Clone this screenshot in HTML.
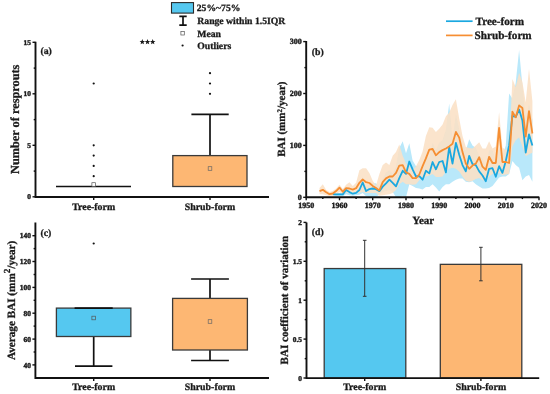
<!DOCTYPE html>
<html><head><meta charset="utf-8"><style>
html,body{margin:0;padding:0;background:#fff;width:550px;height:394px;overflow:hidden}
svg{display:block;will-change:transform}
text{font-family:"Liberation Serif", serif;font-weight:bold;fill:#1a1a1a;stroke:#1a1a1a;stroke-width:0.3px;text-rendering:geometricPrecision}
text.t{stroke-width:0.4px}
</style></head><body>
<svg width="550" height="394" viewBox="0 0 550 394">

<path d="M35.5,41.7 V197.0 H269" stroke="#111" stroke-width="1.9" fill="none"/>
<line x1="32.5" y1="196.8" x2="35.5" y2="196.8" stroke="#111" stroke-width="1.4"/>
<text x="31.0" y="199.4" class="t" font-size="7.4" text-anchor="end">0</text>
<line x1="32.5" y1="145.3" x2="35.5" y2="145.3" stroke="#111" stroke-width="1.4"/>
<text x="31.0" y="147.9" class="t" font-size="7.4" text-anchor="end">5</text>
<line x1="32.5" y1="93.8" x2="35.5" y2="93.8" stroke="#111" stroke-width="1.4"/>
<text x="31.0" y="96.4" class="t" font-size="7.4" text-anchor="end">10</text>
<line x1="32.5" y1="42.3" x2="35.5" y2="42.3" stroke="#111" stroke-width="1.4"/>
<text x="31.0" y="44.9" class="t" font-size="7.4" text-anchor="end">15</text>
<line x1="33.7" y1="171.1" x2="35.5" y2="171.1" stroke="#111" stroke-width="1.4"/>
<line x1="33.7" y1="119.6" x2="35.5" y2="119.6" stroke="#111" stroke-width="1.4"/>
<line x1="33.7" y1="68.1" x2="35.5" y2="68.1" stroke="#111" stroke-width="1.4"/>
<line x1="93.7" y1="197.0" x2="93.7" y2="200.0" stroke="#111" stroke-width="1.4"/>
<line x1="210" y1="197.0" x2="210" y2="200.0" stroke="#111" stroke-width="1.4"/>
<text x="93.7" y="209.8" font-size="9.9" text-anchor="middle">Tree-form</text>
<text x="210" y="209.8" font-size="9.9" text-anchor="middle">Shrub-form</text>
<text x="40.4" y="54.4" font-size="9.8">(a)</text>
<text x="18.7" y="119.3" font-size="12.3" text-anchor="middle" transform="rotate(-90 18.7 119.3)">Number of resprouts</text>
<polygon points="142.30,39.00 143.03,40.89 145.06,41.00 143.49,42.29 144.00,44.25 142.30,43.15 140.60,44.25 141.11,42.29 139.54,41.00 141.57,40.89" fill="#1a1a1a"/>
<polygon points="147.50,39.00 148.23,40.89 150.26,41.00 148.69,42.29 149.20,44.25 147.50,43.15 145.80,44.25 146.31,42.29 144.74,41.00 146.77,40.89" fill="#1a1a1a"/>
<polygon points="152.70,39.00 153.43,40.89 155.46,41.00 153.89,42.29 154.40,44.25 152.70,43.15 151.00,44.25 151.51,42.29 149.94,41.00 151.97,40.89" fill="#1a1a1a"/>
<line x1="56" y1="186.5" x2="131" y2="186.5" stroke="#111" stroke-width="1.7"/>
<rect x="91.9" y="182.7" width="3.6" height="3.6" fill="#fff" stroke="#555" stroke-width="0.7"/>
<circle cx="93.7" cy="176.2" r="1.1" fill="#111"/>
<circle cx="93.7" cy="165.9" r="1.1" fill="#111"/>
<circle cx="93.7" cy="155.6" r="1.1" fill="#111"/>
<circle cx="93.7" cy="145.3" r="1.1" fill="#111"/>
<circle cx="93.7" cy="83.5" r="1.1" fill="#111"/>
<line x1="210" y1="114.4" x2="210" y2="155.6" stroke="#111" stroke-width="1.7"/>
<line x1="191.4" y1="114.4" x2="228.7" y2="114.4" stroke="#111" stroke-width="1.7"/>
<rect x="172.8" y="155.6" width="74.2" height="30.9" fill="#fdb773" stroke="#3a3a3a" stroke-width="1.3"/>
<rect x="208.2" y="166.7" width="3.6" height="3.6" fill="none" stroke="#666" stroke-width="0.7"/>
<circle cx="210" cy="93.8" r="1.1" fill="#111"/>
<circle cx="210" cy="83.5" r="1.1" fill="#111"/>
<circle cx="210" cy="73.2" r="1.1" fill="#111"/>
<rect x="171.5" y="2.6" width="22" height="10.5" fill="#55c8f0" stroke="#2a2a2a" stroke-width="1.1"/>
<text x="196.7" y="11.4" font-size="9.7">25%~75%</text>
<path d="M179.3,16.4 H186.7 M183,16.4 V25.1 M179.3,25.1 H186.7" stroke="#111" stroke-width="1.7" fill="none"/>
<text x="197.3" y="24.2" font-size="9.7">Range within 1.5IQR</text>
<rect x="180.9" y="31.6" width="3.4" height="3.4" fill="#fff" stroke="#555" stroke-width="0.7"/>
<text x="197.3" y="36.8" font-size="9.7">Mean</text>
<circle cx="182.6" cy="45.5" r="1.1" fill="#111"/>
<text x="197.3" y="49.3" font-size="9.7">Outliers</text>
<polygon points="332.8,192.6 336.1,193.1 339.5,193.1 342.8,193.1 346.1,188.0 349.4,190.0 352.8,192.1 356.1,191.1 359.4,186.9 362.7,176.5 366.1,186.9 369.4,184.3 372.7,183.3 376.0,183.3 379.4,186.9 382.7,179.1 386.0,172.4 389.4,170.3 392.7,173.9 396.0,166.2 399.3,148.0 402.7,141.2 406.0,153.2 409.3,143.3 412.6,160.5 416.0,166.2 419.3,165.1 422.6,168.8 425.9,155.8 429.3,158.4 432.6,142.8 435.9,150.6 439.2,142.8 442.6,140.2 445.9,129.8 449.2,103.4 452.5,140.2 455.9,114.3 459.2,129.8 462.5,145.4 465.8,150.6 469.2,139.2 472.5,145.4 475.8,148.0 479.2,155.8 482.5,158.4 485.8,168.8 489.1,150.6 492.5,150.6 495.8,161.0 499.1,148.0 502.4,155.8 505.8,145.4 509.1,93.5 512.4,98.7 515.7,83.1 519.1,49.9 522.4,85.7 525.7,119.5 529.0,103.9 532.4,119.5 532.4,181.7 529.0,175.0 525.7,176.5 522.4,180.2 519.1,167.7 515.7,165.1 512.4,161.0 509.1,173.9 505.8,176.5 502.4,176.5 499.1,177.6 495.8,181.7 492.5,185.9 489.1,188.0 485.8,188.5 482.5,188.5 479.2,186.4 475.8,184.3 472.5,181.2 469.2,182.2 465.8,181.7 462.5,178.6 459.2,178.6 455.9,179.7 452.5,181.7 449.2,184.3 445.9,184.3 442.6,186.9 439.2,191.6 435.9,187.4 432.6,184.3 429.3,186.9 425.9,186.9 422.6,189.5 419.3,188.5 416.0,188.0 412.6,185.9 409.3,184.3 406.0,197.3 402.7,195.7 399.3,197.3 396.0,197.3 392.7,192.1 389.4,190.0 386.0,191.1 382.7,192.1 379.4,194.7 376.0,196.8 372.7,197.3 369.4,196.8 366.1,196.3 362.7,193.1 359.4,194.7 356.1,195.2 352.8,195.7 349.4,195.2 346.1,194.2 342.8,196.3 339.5,196.3 336.1,196.3 332.8,195.7" fill="#b9e8fa"/>
<polygon points="319.5,188.0 322.8,184.3 326.2,190.0 329.5,192.1 332.8,191.1 336.1,188.5 339.5,184.8 342.8,189.0 346.1,184.8 349.4,182.2 352.8,185.9 356.1,182.8 359.4,170.3 362.7,168.2 366.1,168.2 369.4,172.9 372.7,180.7 376.0,185.4 379.4,173.9 382.7,165.1 386.0,162.5 389.4,165.1 392.7,155.8 396.0,152.1 399.3,144.4 402.7,155.8 406.0,163.6 409.3,166.2 412.6,170.3 416.0,166.2 419.3,159.9 422.6,151.6 425.9,136.1 429.3,127.2 432.6,127.8 435.9,131.9 439.2,128.8 442.6,124.6 445.9,116.3 449.2,112.7 452.5,104.9 455.9,99.2 459.2,118.4 462.5,136.1 465.8,147.0 469.2,148.0 472.5,148.5 475.8,145.4 479.2,142.3 482.5,148.5 485.8,148.5 489.1,141.2 492.5,148.5 495.8,146.4 499.1,112.2 502.4,147.5 505.8,150.1 509.1,148.0 512.4,79.0 515.7,87.3 519.1,72.7 522.4,82.1 525.7,102.3 529.0,69.1 532.4,101.3 532.4,152.7 529.0,154.2 525.7,156.3 522.4,146.4 519.1,137.6 515.7,140.2 512.4,146.4 509.1,173.9 505.8,174.5 502.4,175.0 499.1,172.9 495.8,173.9 492.5,173.9 489.1,176.5 485.8,180.7 482.5,180.2 479.2,178.1 475.8,179.1 472.5,180.7 469.2,181.7 465.8,180.7 462.5,176.5 459.2,171.4 455.9,168.8 452.5,167.7 449.2,168.8 445.9,171.4 442.6,176.5 439.2,177.1 435.9,177.1 432.6,173.9 429.3,175.5 425.9,176.5 422.6,178.1 419.3,180.2 416.0,184.3 412.6,184.8 409.3,184.3 406.0,184.3 402.7,181.7 399.3,184.3 396.0,190.0 392.7,193.1 389.4,194.2 386.0,194.7 382.7,195.2 379.4,195.7 376.0,193.1 372.7,193.1 369.4,193.1 366.1,193.1 362.7,192.1 359.4,193.1 356.1,193.1 352.8,194.2 349.4,193.1 346.1,192.6 342.8,194.7 339.5,192.1 336.1,194.2 332.8,195.7 329.5,196.3 326.2,195.2 322.8,194.2 319.5,194.2" fill="#fbe0c5" fill-opacity="0.88"/>
<polyline points="332.8,194.1 336.1,194.4 339.5,194.4 342.8,194.4 346.1,190.0 349.4,192.1 352.8,193.7 356.1,192.9 359.4,190.0 362.7,182.5 366.1,191.1 369.4,189.1 372.7,188.5 376.0,189.1 379.4,191.1 382.7,186.6 386.0,183.4 389.4,179.7 392.7,182.8 396.0,186.4 399.3,178.1 402.7,170.8 406.0,173.9 409.3,161.5 412.6,169.3 416.0,176.5 419.3,176.2 422.6,179.7 425.9,170.8 429.3,173.4 432.6,162.0 435.9,169.3 439.2,162.0 442.6,161.0 445.9,172.4 449.2,147.0 452.5,163.6 455.9,142.8 459.2,154.7 462.5,165.1 465.8,171.4 469.2,155.8 472.5,164.1 475.8,165.1 479.2,171.4 482.5,175.5 485.8,181.2 489.1,168.8 492.5,168.2 495.8,176.8 499.1,166.2 502.4,172.9 505.8,161.0 509.1,145.4 512.4,115.8 515.7,116.9 519.1,109.6 522.4,120.5 525.7,152.7 529.0,134.5 532.4,145.4" fill="none" stroke="#1aa8e0" stroke-width="1.8" stroke-linejoin="round"/>
<polyline points="319.5,191.1 322.8,189.8 326.2,192.3 329.5,194.2 332.8,193.5 336.1,191.1 339.5,187.6 342.8,191.7 346.1,188.2 349.4,188.5 352.8,189.6 356.1,188.2 359.4,182.8 362.7,179.4 366.1,182.2 369.4,183.0 372.7,185.9 376.0,188.0 379.4,190.4 382.7,182.2 386.0,178.4 389.4,176.5 392.7,176.5 396.0,172.9 399.3,165.6 402.7,165.1 406.0,172.4 409.3,173.9 412.6,178.1 416.0,178.1 419.3,174.5 422.6,166.2 425.9,158.4 429.3,149.6 432.6,149.0 435.9,155.3 439.2,152.1 442.6,150.1 445.9,148.5 449.2,146.4 452.5,143.8 455.9,131.9 459.2,137.6 462.5,152.1 465.8,163.6 469.2,168.8 472.5,165.6 475.8,163.6 479.2,157.3 482.5,166.7 485.8,169.8 489.1,156.8 492.5,163.0 495.8,163.0 499.1,127.8 502.4,162.0 505.8,162.0 509.1,163.0 512.4,111.7 515.7,117.4 519.1,105.4 522.4,108.0 525.7,136.6 529.0,111.1 532.4,133.5" fill="none" stroke="#f68e32" stroke-width="1.8" stroke-linejoin="round"/>
<path d="M306.2,41.099999999999994 V197.3 H539.3" stroke="#111" stroke-width="1.9" fill="none"/>
<line x1="303.2" y1="197.3" x2="306.2" y2="197.3" stroke="#111" stroke-width="1.4"/>
<text x="301.7" y="200.1" class="t" font-size="8" text-anchor="end">0</text>
<line x1="303.2" y1="145.4" x2="306.2" y2="145.4" stroke="#111" stroke-width="1.4"/>
<text x="301.7" y="148.2" class="t" font-size="8" text-anchor="end">100</text>
<line x1="303.2" y1="93.5" x2="306.2" y2="93.5" stroke="#111" stroke-width="1.4"/>
<text x="301.7" y="96.3" class="t" font-size="8" text-anchor="end">200</text>
<line x1="303.2" y1="41.6" x2="306.2" y2="41.6" stroke="#111" stroke-width="1.4"/>
<text x="301.7" y="44.4" class="t" font-size="8" text-anchor="end">300</text>
<line x1="304.4" y1="171.4" x2="306.2" y2="171.4" stroke="#111" stroke-width="1.4"/>
<line x1="304.4" y1="119.5" x2="306.2" y2="119.5" stroke="#111" stroke-width="1.4"/>
<line x1="304.4" y1="67.6" x2="306.2" y2="67.6" stroke="#111" stroke-width="1.4"/>
<line x1="306.2" y1="197.3" x2="306.2" y2="200.3" stroke="#111" stroke-width="1.4"/>
<text x="306.2" y="208.4" class="t" font-size="8" text-anchor="middle">1950</text>
<line x1="339.5" y1="197.3" x2="339.5" y2="200.3" stroke="#111" stroke-width="1.4"/>
<text x="339.5" y="208.4" class="t" font-size="8" text-anchor="middle">1960</text>
<line x1="372.7" y1="197.3" x2="372.7" y2="200.3" stroke="#111" stroke-width="1.4"/>
<text x="372.7" y="208.4" class="t" font-size="8" text-anchor="middle">1970</text>
<line x1="406.0" y1="197.3" x2="406.0" y2="200.3" stroke="#111" stroke-width="1.4"/>
<text x="406.0" y="208.4" class="t" font-size="8" text-anchor="middle">1980</text>
<line x1="439.2" y1="197.3" x2="439.2" y2="200.3" stroke="#111" stroke-width="1.4"/>
<text x="439.2" y="208.4" class="t" font-size="8" text-anchor="middle">1990</text>
<line x1="472.5" y1="197.3" x2="472.5" y2="200.3" stroke="#111" stroke-width="1.4"/>
<text x="472.5" y="208.4" class="t" font-size="8" text-anchor="middle">2000</text>
<line x1="505.8" y1="197.3" x2="505.8" y2="200.3" stroke="#111" stroke-width="1.4"/>
<text x="505.8" y="208.4" class="t" font-size="8" text-anchor="middle">2010</text>
<line x1="539.0" y1="197.3" x2="539.0" y2="200.3" stroke="#111" stroke-width="1.4"/>
<text x="539.0" y="208.4" class="t" font-size="8" text-anchor="middle">2020</text>
<line x1="322.8" y1="197.3" x2="322.8" y2="199.10000000000002" stroke="#111" stroke-width="1.4"/>
<line x1="356.1" y1="197.3" x2="356.1" y2="199.10000000000002" stroke="#111" stroke-width="1.4"/>
<line x1="389.4" y1="197.3" x2="389.4" y2="199.10000000000002" stroke="#111" stroke-width="1.4"/>
<line x1="422.6" y1="197.3" x2="422.6" y2="199.10000000000002" stroke="#111" stroke-width="1.4"/>
<line x1="455.9" y1="197.3" x2="455.9" y2="199.10000000000002" stroke="#111" stroke-width="1.4"/>
<line x1="489.1" y1="197.3" x2="489.1" y2="199.10000000000002" stroke="#111" stroke-width="1.4"/>
<line x1="522.4" y1="197.3" x2="522.4" y2="199.10000000000002" stroke="#111" stroke-width="1.4"/>
<text x="423.2" text-anchor="middle" y="224.1" font-size="11">Year</text>
<text x="311.7" y="55" font-size="9.8">(b)</text>
<text x="285.5" y="119.2" font-size="11" text-anchor="middle" transform="rotate(-90 285.5 119.2)">BAI (mm<tspan font-size="7" dy="-3.9">2</tspan><tspan dy="3.9">/year)</tspan></text>
<line x1="446" y1="21.2" x2="472.6" y2="21.2" stroke="#1aa8e0" stroke-width="1.7"/>
<text x="475.5" y="24.6" font-size="11.2">Tree-form</text>
<line x1="446" y1="35.4" x2="472.6" y2="35.4" stroke="#f68e32" stroke-width="1.7"/>
<text x="474.5" y="39.1" font-size="11.2">Shrub-form</text>
<path d="M35.4,222.5 V378.0 H269" stroke="#111" stroke-width="1.9" fill="none"/>
<line x1="32.4" y1="364.9" x2="35.4" y2="364.9" stroke="#111" stroke-width="1.4"/>
<text x="30.9" y="367.5" class="t" font-size="7.5" text-anchor="end">40</text>
<line x1="32.4" y1="339.1" x2="35.4" y2="339.1" stroke="#111" stroke-width="1.4"/>
<text x="30.9" y="341.7" class="t" font-size="7.5" text-anchor="end">60</text>
<line x1="32.4" y1="313.2" x2="35.4" y2="313.2" stroke="#111" stroke-width="1.4"/>
<text x="30.9" y="315.8" class="t" font-size="7.5" text-anchor="end">80</text>
<line x1="32.4" y1="287.4" x2="35.4" y2="287.4" stroke="#111" stroke-width="1.4"/>
<text x="30.9" y="290.0" class="t" font-size="7.5" text-anchor="end">100</text>
<line x1="32.4" y1="261.5" x2="35.4" y2="261.5" stroke="#111" stroke-width="1.4"/>
<text x="30.9" y="264.1" class="t" font-size="7.5" text-anchor="end">120</text>
<line x1="32.4" y1="235.7" x2="35.4" y2="235.7" stroke="#111" stroke-width="1.4"/>
<text x="30.9" y="238.3" class="t" font-size="7.5" text-anchor="end">140</text>
<line x1="33.6" y1="352.0" x2="35.4" y2="352.0" stroke="#111" stroke-width="1.4"/>
<line x1="33.6" y1="326.1" x2="35.4" y2="326.1" stroke="#111" stroke-width="1.4"/>
<line x1="33.6" y1="300.3" x2="35.4" y2="300.3" stroke="#111" stroke-width="1.4"/>
<line x1="33.6" y1="274.5" x2="35.4" y2="274.5" stroke="#111" stroke-width="1.4"/>
<line x1="33.6" y1="248.6" x2="35.4" y2="248.6" stroke="#111" stroke-width="1.4"/>
<line x1="93.7" y1="378.0" x2="93.7" y2="381.0" stroke="#111" stroke-width="1.4"/>
<line x1="210" y1="378.0" x2="210" y2="381.0" stroke="#111" stroke-width="1.4"/>
<text x="93.7" y="390.2" font-size="9.9" text-anchor="middle">Tree-form</text>
<text x="210" y="390.2" font-size="9.9" text-anchor="middle">Shrub-form</text>
<text x="40.4" y="235.5" font-size="9.8">(c)</text>
<text x="15" y="300.4" font-size="11.2" text-anchor="middle" transform="rotate(-90 15 300.4)">Average BAI (mm<tspan font-size="9.2" dy="-4.6">2</tspan><tspan dy="4.6">/year)</tspan></text>
<line x1="93.7" y1="336.5" x2="93.7" y2="366.2" stroke="#111" stroke-width="1.7"/>
<line x1="75" y1="366.2" x2="112.4" y2="366.2" stroke="#111" stroke-width="1.7"/>
<rect x="56.4" y="308.1" width="74.45" height="28.4" fill="#55c8f0" stroke="#3a3a3a" stroke-width="1.3"/>
<line x1="74.6" y1="308.1" x2="112.7" y2="308.1" stroke="#111" stroke-width="1.7"/>
<rect x="91.9" y="316.2" width="3.6" height="3.6" fill="none" stroke="#555" stroke-width="0.7"/>
<circle cx="93.7" cy="243.5" r="1.1" fill="#111"/>
<line x1="210" y1="279.0" x2="210" y2="360.5" stroke="#111" stroke-width="1.7"/>
<line x1="191.1" y1="279.0" x2="228.9" y2="279.0" stroke="#111" stroke-width="1.7"/>
<line x1="191.1" y1="360.5" x2="228.9" y2="360.5" stroke="#111" stroke-width="1.7"/>
<rect x="172.6" y="298.4" width="74.8" height="51.6" fill="#fdb773" stroke="#3a3a3a" stroke-width="1.3"/>
<rect x="208.2" y="319.7" width="3.6" height="3.6" fill="none" stroke="#666" stroke-width="0.7"/>
<rect x="324.2" y="268.55" width="81.6" height="109.45" fill="#55c8f0" stroke="#3a3a3a" stroke-width="1.3"/>
<rect x="440.3" y="264.35" width="81.5" height="113.65" fill="#fdb773" stroke="#3a3a3a" stroke-width="1.3"/>
<line x1="364.7" y1="240.3" x2="364.7" y2="296.3" stroke="#333" stroke-width="1"/>
<line x1="362.9" y1="296.3" x2="366.5" y2="296.3" stroke="#333" stroke-width="1"/>
<line x1="362.9" y1="240.3" x2="366.5" y2="240.3" stroke="#333" stroke-width="1"/>
<line x1="480.9" y1="247.3" x2="480.9" y2="280.8" stroke="#333" stroke-width="1"/>
<line x1="479.09999999999997" y1="280.8" x2="482.7" y2="280.8" stroke="#333" stroke-width="1"/>
<line x1="479.09999999999997" y1="247.3" x2="482.7" y2="247.3" stroke="#333" stroke-width="1"/>
<path d="M306.5,222.4 V378.1 H539.2" stroke="#111" stroke-width="1.9" fill="none"/>
<line x1="303.5" y1="378.0" x2="306.5" y2="378.0" stroke="#111" stroke-width="1.4"/>
<text x="302.0" y="380.6" class="t" font-size="7.4" text-anchor="end">0</text>
<line x1="303.5" y1="339.1" x2="306.5" y2="339.1" stroke="#111" stroke-width="1.4"/>
<text x="302.0" y="341.7" class="t" font-size="7.4" text-anchor="end">0.5</text>
<line x1="303.5" y1="300.2" x2="306.5" y2="300.2" stroke="#111" stroke-width="1.4"/>
<text x="302.0" y="302.8" class="t" font-size="7.4" text-anchor="end">1</text>
<line x1="303.5" y1="261.3" x2="306.5" y2="261.3" stroke="#111" stroke-width="1.4"/>
<text x="302.0" y="263.9" class="t" font-size="7.4" text-anchor="end">1.5</text>
<line x1="303.5" y1="222.4" x2="306.5" y2="222.4" stroke="#111" stroke-width="1.4"/>
<text x="302.0" y="225.0" class="t" font-size="7.4" text-anchor="end">2</text>
<line x1="304.7" y1="358.6" x2="306.5" y2="358.6" stroke="#111" stroke-width="1.4"/>
<line x1="304.7" y1="319.6" x2="306.5" y2="319.6" stroke="#111" stroke-width="1.4"/>
<line x1="304.7" y1="280.8" x2="306.5" y2="280.8" stroke="#111" stroke-width="1.4"/>
<line x1="304.7" y1="241.8" x2="306.5" y2="241.8" stroke="#111" stroke-width="1.4"/>
<line x1="364.7" y1="378.1" x2="364.7" y2="381.1" stroke="#111" stroke-width="1.4"/>
<line x1="480.9" y1="378.1" x2="480.9" y2="381.1" stroke="#111" stroke-width="1.4"/>
<text x="364.7" y="389.9" font-size="9.9" text-anchor="middle">Tree-form</text>
<text x="480.9" y="389.9" font-size="9.9" text-anchor="middle">Shrub-form</text>
<text x="311.7" y="235.3" font-size="9.8">(d)</text>
<text x="288" y="300.1" font-size="11.05" text-anchor="middle" transform="rotate(-90 288 300.1)">BAI coefficient of variation</text>
</svg>
</body></html>
